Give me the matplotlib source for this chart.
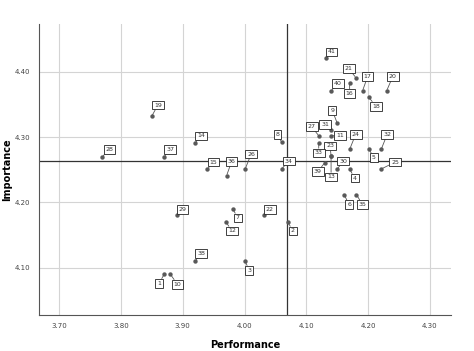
import matplotlib
matplotlib.use("Agg")
import matplotlib.pyplot as plt

# Data
ids = [1, 2, 3, 4, 5, 6, 7, 8, 9, 10, 11, 12, 13, 14, 15, 16, 17, 18, 19, 20, 21,
       22, 23, 24, 25, 26, 27, 28, 29, 30, 31, 32, 33, 34, 35, 36, 37, 38, 39, 40, 41]
performance = [3.870, 4.070, 4.001, 4.170, 4.201, 4.161, 3.981, 4.060, 4.150, 3.880, 4.140,
               3.970, 4.140, 3.920, 3.940, 4.170, 4.191, 4.201, 3.850, 4.230, 4.180,
               4.031, 4.140, 4.170, 4.221, 4.001, 4.120, 3.770, 3.890, 4.150, 4.140,
               4.221, 4.120, 4.060, 4.181, 3.971, 3.870, 3.920, 4.130, 4.140, 4.131]
importance = [4.090, 4.170, 4.110, 4.251, 4.282, 4.212, 4.190, 4.292, 4.321, 4.090, 4.302,
              4.170, 4.271, 4.291, 4.251, 4.382, 4.371, 4.361, 4.332, 4.371, 4.391,
              4.180, 4.271, 4.281, 4.251, 4.251, 4.302, 4.270, 4.180, 4.251, 4.311,
              4.281, 4.291, 4.251, 4.212, 4.241, 4.270, 4.110, 4.261, 4.371, 4.421]
mean_performance = 4.069
mean_importance = 4.2626
x_ticks = [3.70, 3.80, 3.90, 4.00, 4.10, 4.20, 4.30]
y_ticks = [4.10, 4.20, 4.30, 4.40]

# Label offsets (pixels), style only
offsets = {1: (-5, -9), 2: (5, -9), 3: (4, -9), 4: (5, -9), 5: (5, -9), 6: (5, -10),
           7: (5, -9), 8: (-4, 8), 9: (-5, 13), 10: (7, -10), 11: (9, 0), 12: (6, -9),
           13: (0, -21), 14: (6, 7), 15: (6, 7), 16: (0, -10), 17: (5, 14), 18: (7, -9),
           19: (6, 11), 20: (6, 14), 21: (-7, 9), 22: (6, 6), 23: (-1, 10), 24: (6, 15),
           25: (14, 7), 26: (6, 15), 27: (-7, 9), 28: (7, 7), 29: (6, 6), 30: (6, 8),
           31: (-6, 5), 32: (6, 15), 33: (0, -10), 34: (7, 8), 35: (6, -10), 36: (5, 14),
           37: (6, 7), 38: (6, 8), 39: (-7, -9), 40: (7, 7), 41: (6, 6)}

fig = plt.figure(figsize=(4.74, 3.51), dpi=100)
ax = fig.add_axes([0.0816, 0.1026, 0.8699, 0.829])

ax.set_xlim(3.667, 4.334)
ax.set_ylim(4.0276, 4.473)
ax.set_xticks(x_ticks)
ax.set_yticks(y_ticks)
ax.set_xticklabels([f"{v:.2f}" for v in x_ticks])
ax.set_yticklabels([f"{v:.2f}" for v in y_ticks])
ax.tick_params(length=0, labelsize=5, colors="#444444", pad=6)
ax.grid(True, color="#d4d4d4", linewidth=0.8)
ax.set_axisbelow(True)
for s in ["top", "right"]:
    ax.spines[s].set_visible(False)
for s in ["left", "bottom"]:
    ax.spines[s].set_color("#555555")
    ax.spines[s].set_linewidth(0.8)

ax.axvline(mean_performance, color="#333333", linewidth=0.9, zorder=2)
ax.axhline(mean_importance, color="#333333", linewidth=0.9, zorder=2)

ax.scatter(performance, importance, s=10, color="#595959", zorder=3, linewidths=0)

for i, px, py in zip(ids, performance, importance):
    dx, dy = offsets[i]
    ax.annotate(str(i), (px, py), xytext=(dx, dy), textcoords="offset pixels",
                ha="center", va="center", fontsize=4.5, color="#333333",
                bbox=dict(boxstyle="square,pad=0.3", fc="white", ec="#222222", lw=0.6),
                arrowprops=dict(arrowstyle="-", color="#555555", lw=0.6,
                                shrinkA=0, shrinkB=1),
                zorder=4)

ax.set_xlabel("Performance", fontsize=7, fontweight="bold")
ax.set_ylabel("Importance", fontsize=7, fontweight="bold")
ax.xaxis.set_label_coords(0.5, -0.085)
ax.yaxis.set_label_coords(-0.065, 0.5)

fig.savefig("out.png", dpi=100)
